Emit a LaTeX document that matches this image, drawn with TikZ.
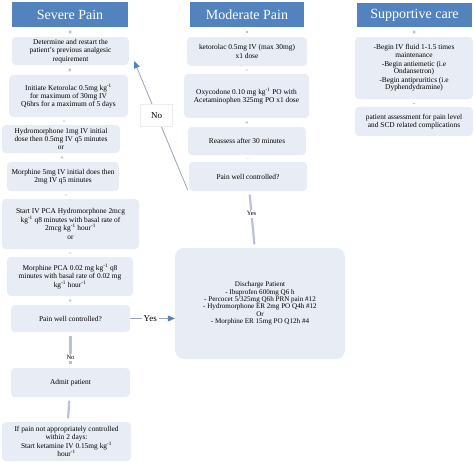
\documentclass[tikz,border=0pt]{standalone}
\usepackage{fontspec}
\setmainfont{Liberation Serif}
\usetikzlibrary{arrows.meta}

\definecolor{headblue}{HTML}{5383BF}
\definecolor{boxfill}{HTML}{E8ECF4}
\definecolor{linkgrey}{HTML}{B9C0D8}

\tikzset{
  head/.style={fill=headblue, text=white, inner sep=0pt,
    font=\fontsize{14}{15}\selectfont},
  stepbox/.style={fill=boxfill, rounded corners=4pt, align=center,
    inner sep=0pt, font=\fontsize{7.4}{8.4}\selectfont},
  link/.style={draw=linkgrey, line width=2.2pt, shorten <=3.5pt, shorten >=3.5pt},
  arrowline/.style={draw=linkgrey!85!black, line width=0.8pt,
    -{Triangle[length=7pt,width=6pt,color=headblue]}},
  biglbl/.style={fill=white, inner sep=2pt, font=\fontsize{9}{10}\selectfont},
  smalllbl/.style={fill=white, inner sep=1.5pt, font=\fontsize{6.5}{7}\selectfont}
}

\newcommand{\invkg}{kg\textsuperscript{-1}}
\newcommand{\invhr}{hour\textsuperscript{-1}}

\begin{document}
\begin{tikzpicture}[x=1pt,y=-1pt]
\useasboundingbox (0,0) rectangle (474,463);

% severe pain
\node[head, minimum width=116pt, minimum height=25pt] (hs) at (70,14.5) {Severe Pain};
\node[stepbox, minimum width=117pt, minimum height=28pt] (s1) at (70.5,51)
  {Determine and restart the\\patient's previous analgesic\\requirement};
\node[stepbox, minimum width=119pt, minimum height=42pt] (s2) at (68.5,96)
  {Initiate Ketorolac 0.5mg \invkg\\for maximum of 30mg IV\\Q6hrs for a maximum of 5 days};
\node[stepbox, minimum width=118pt, minimum height=28pt] (s3) at (61,139)
  {Hydromorphone 1mg IV initial\\dose then 0.5mg IV q5 minutes\\or};
\node[stepbox, minimum width=112pt, minimum height=29pt] (s4) at (63,176.5)
  {Morphine 5mg IV initial does then\\2mg IV q5 minutes};
\node[stepbox, minimum width=137pt, minimum height=50pt] (s5) at (70.5,224)
  {Start IV PCA Hydromorphone 2mcg\\\invkg{} q8 minutes with basal rate of\\2mcg \invkg{} \invhr\\or};
\node[stepbox, minimum width=126pt, minimum height=39pt] (s6) at (70,276.5)
  {Morphine PCA 0.02 mg \invkg{} q8\\minutes with basal rate of 0.02 mg\\\invkg{} \invhr};
\node[stepbox, minimum width=119pt, minimum height=27pt] (s7) at (70.5,318.5)
  {Pain well controlled?};
\node[stepbox, minimum width=119pt, minimum height=29pt] (s8) at (70.5,382.5)
  {Admit patient};
\node[stepbox, minimum width=129pt, minimum height=39pt] (s9) at (66.5,441.5)
  {If pain not appropriately controlled\\within 2 days:\\Start ketamine IV 0.15mg \invkg\\\invhr};

\draw[link] (hs) -- (s1);
\draw[link] (s1) -- (s2);
\draw[link] (s2) -- (s3);
\draw[link] (s3) -- (s4);
\draw[link] (s4) -- (s5);
\draw[link] (s5) -- (s6);
\draw[link] (s6) -- (s7);
\draw[link] (s7) -- node[smalllbl, pos=0.72]{No} (s8);
\draw[link] (s8) -- (s9);

% moderate pain
\node[head, minimum width=114pt, minimum height=25pt] (hm) at (247,14.5) {Moderate Pain};
\node[stepbox, minimum width=120pt, minimum height=29pt] (m1) at (247,51.5)
  {ketorolac 0.5mg IV (max 30mg)\\x1 dose};
\node[stepbox, minimum width=125pt, minimum height=44pt] (m2) at (246.5,96)
  {Oxycodone 0.10 mg \invkg{} PO with\\Acetaminophen 325mg PO x1 dose};
\node[stepbox, minimum width=118pt, minimum height=28pt] (m3) at (247,141)
  {Reassess after 30 minutes};
\node[stepbox, minimum width=118pt, minimum height=29pt] (m4) at (248,176.5)
  {Pain well controlled?};
\node[stepbox, minimum width=170pt, minimum height=111pt, rounded corners=9pt,
  font=\fontsize{7.1}{7.4}\selectfont] (dis) at (260,303.5)
  {Discharge Patient\\- Ibuprofen 600mg Q6 h\\- Percocet 5/325mg Q6h PRN pain \#12\\- Hydromorphone ER 2mg PO Q4h \#12\\Or\\- Morphine ER 15mg PO Q12h \#4};

\draw[link] (hm) -- (m1);
\draw[link] (m1) -- (m2);
\draw[link] (m2) -- (m3);
\draw[link] (m3) -- (m4);
\draw[link] (m4) -- node[smalllbl, pos=0.4]{Yes} (dis);

% supportive care
\node[head, minimum width=115pt, minimum height=24pt] (hc) at (414.5,15) {Supportive care};
\node[stepbox, minimum width=118pt, minimum height=62pt, font=\fontsize{7.4}{7.6}\selectfont] (c1) at (414,68)
  {-Begin IV fluid 1-1.5 times\\maintenance\\[1pt]-Begin antiemetic (i.e\\Ondansetron)\\[1pt]-Begin antipruritics (i.e\\Dyphendydramine)};
\node[stepbox, minimum width=118pt, minimum height=29pt] (c2) at (414,121.5)
  {patient assessment for pain level\\and SCD related complications};

\draw[link] (hc) -- (c1);
\draw[link] (c1) -- (c2);

% decisions
\draw[arrowline] ([shift={(-1pt,1pt)}]m4.south west) --
  node[biglbl, draw=gray!15, minimum width=32pt, minimum height=22pt, pos=0.58]{No}
  ([shift={(5pt,4pt)}]s1.south east);
\draw[arrowline] (s7.east) -- node[biglbl, pos=0.45]{Yes} (s7.east -| dis.west);

\end{tikzpicture}
\end{document}
